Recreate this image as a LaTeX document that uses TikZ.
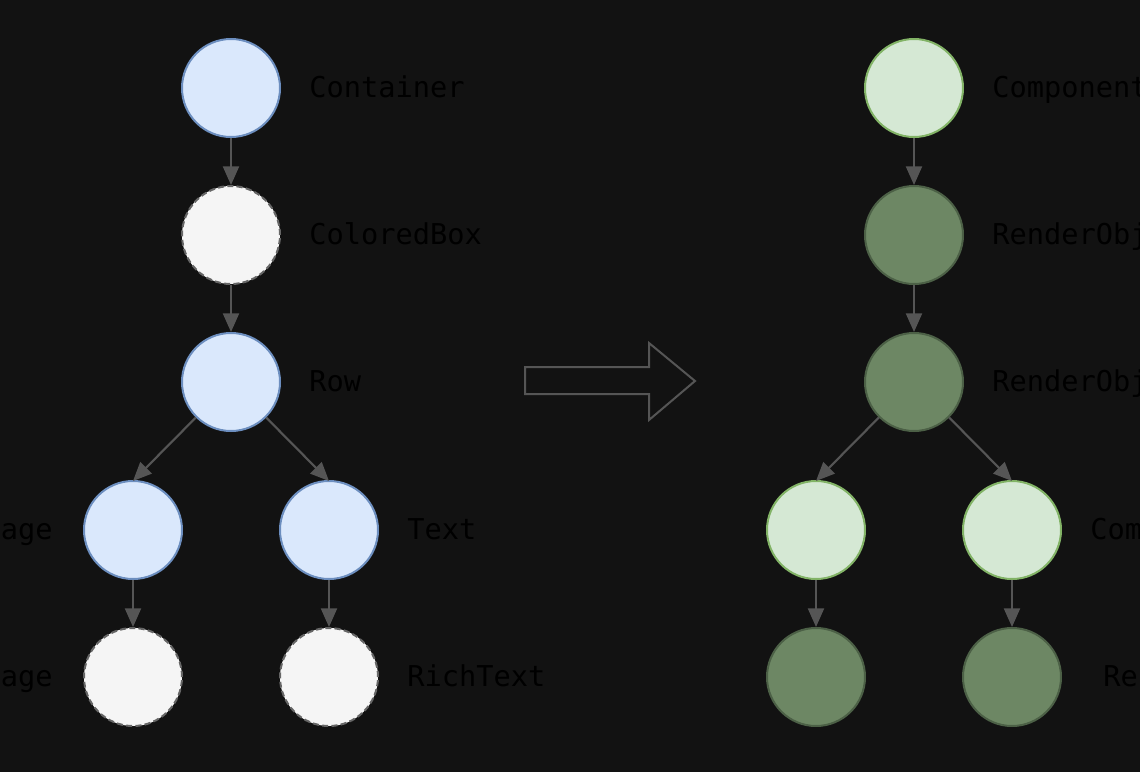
\documentclass[tikz,border=0pt]{standalone}
\usepackage{fontspec}
\setmonofont{DejaVu Sans Mono}
\usetikzlibrary{arrows.meta}
\definecolor{bgc}{HTML}{121212}
\definecolor{blf}{HTML}{DAE8FC}\definecolor{bls}{HTML}{6C8EBF}
\definecolor{whf}{HTML}{F5F5F5}\definecolor{whs}{HTML}{666666}
\definecolor{lgf}{HTML}{D5E8D4}\definecolor{lgs}{HTML}{82B366}
\definecolor{dgf}{HTML}{6D8764}\definecolor{dgs}{HTML}{4C6046}
\definecolor{arc}{HTML}{555555}
\begin{document}
\begin{tikzpicture}[x=0.75pt,y=-0.75pt,
  nd/.style={circle,minimum size=73.5pt,inner sep=0pt,line width=1.5pt},
  bl/.style={nd,fill=blf,draw=bls},
  wh/.style={nd,fill=whf,draw=whs,dash pattern=on 4.5pt off 2.5pt},
  lg/.style={nd,fill=lgf,draw=lgs},
  dg/.style={nd,fill=dgf,draw=dgs},
  lbl/.style={font=\ttfamily\fontsize{21.5}{24}\selectfont,text=black,inner sep=0pt},
  ar/.style={draw=arc,line width=1.6pt,-{Triangle[length=14pt,width=12pt]}}]
\fill[bgc] (0,0) rectangle (1140,772);
\useasboundingbox (0,0) rectangle (1140,772);
\clip (0,0) rectangle (1140,772);
\node[bl] (a1) at (231,88) {};
\node[wh] (a2) at (231,235) {};
\node[bl] (a3) at (231,382) {};
\node[bl] (a4) at (133,530) {};
\node[bl] (a5) at (329,530) {};
\node[wh] (a6) at (133,677) {};
\node[wh] (a7) at (329,677) {};
\node[lg] (b1) at (914,88) {};
\node[dg] (b2) at (914,235) {};
\node[dg] (b3) at (914,382) {};
\node[lg] (b4) at (816,530) {};
\node[lg] (b5) at (1012,530) {};
\node[dg] (b6) at (816,677) {};
\node[dg] (b7) at (1012,677) {};
\foreach \p/\c in {a1/a2,a2/a3,a4/a6,a5/a7,b1/b2,b2/b3,b4/b6,b5/b7}{\draw[ar] (\p) -- (\c);}
\foreach \p/\c in {a3/a4,a3/a5,b3/b4,b3/b5}{\draw[ar] (\p) -- ([yshift=-0.75pt]\c.north);}
\node[lbl,anchor=base west] (t1) at (309,97) {Container};
\node[lbl,anchor=base west] (t2) at (309,244) {ColoredBox};
\node[lbl,anchor=base west] (t3) at (309,391) {Row};
\node[lbl,anchor=base east] (t4) at (53,539) {Image};
\node[lbl,anchor=base west] (t5) at (407,539) {Text};
\node[lbl,anchor=base east] (t6) at (53,686) {RawImage};
\node[lbl,anchor=base west] (t7) at (407,686) {RichText};
\node[lbl,anchor=base west] (u1) at (992,97) {Component};
\node[lbl,anchor=base west] (u2) at (992,244) {RenderObject};
\node[lbl,anchor=base west] (u3) at (992,391) {RenderObject};
\node[lbl,anchor=base west] (u5) at (1090,539) {Component};
\node[lbl,anchor=base west] (u7) at (1103,686) {RenderObject};
\draw[draw=arc,line width=1.5pt,line join=miter]
 (525,367) -- (649,367) -- (649,343) -- (695,381) -- (649,420) -- (649,394) -- (525,394) -- cycle;
\end{tikzpicture}
\end{document}
